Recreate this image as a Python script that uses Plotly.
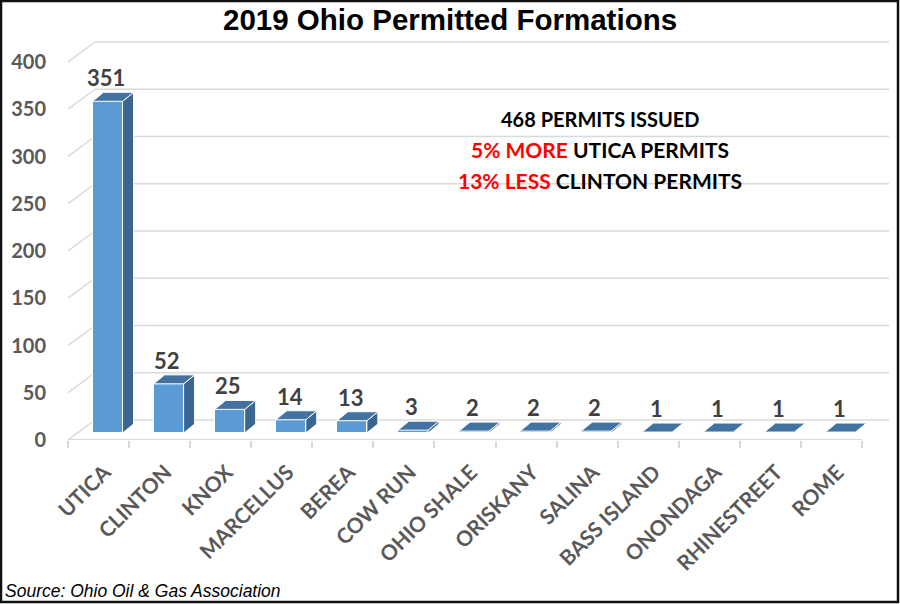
import plotly.graph_objects as go

# ---- data ----
categories = ["UTICA", "CLINTON", "KNOX", "MARCELLUS", "BEREA", "COW RUN", "OHIO SHALE",
              "ORISKANY", "SALINA", "BASS ISLAND", "ONONDAGA", "RHINESTREET", "ROME"]
permits = [351, 52, 25, 14, 13, 3, 2, 2, 2, 1, 1, 1, 1]
y_ticks = [0, 50, 100, 150, 200, 250, 300, 350, 400]

# ---- geometry (pseudo-3D, in axis units) ----
W, H = 900, 604
L, R, T, B = 68, 10, 40, 164
plot_w, plot_h = W - L - R, H - T - B
cat_px = 61.08
px_per_unit = 0.945
x_range = [-0.5, -0.5 + plot_w / cat_px]
y_range = [0, plot_h / px_per_unit]

wall_dx, wall_dy = 27 / cat_px, 20 / px_per_unit      # floor depth
front_dx, front_dy = 9 / cat_px, 7 / px_per_unit      # bar front plane offset
bar_dx, bar_dy = 11 / cat_px, 9 / px_per_unit         # bar depth
bar_w = 30 / cat_px

FRONT = "#5B9BD5"
TOP = "#4172A0"
SIDE = "#3A6690"
GRID = "#D9D9D9"
TXT = "#595959"

fig = go.Figure()

xs = [i + front_dx for i in range(len(categories))]
fig.add_trace(go.Bar(
    x=xs, y=permits, base=[front_dy] * len(permits), width=bar_w,
    marker=dict(color=FRONT, line=dict(color="white", width=1)),
    hoverinfo="skip", showlegend=False))

# side and top faces
sx, sy, tx, ty = [], [], [], []
for xc, v in zip(xs, permits):
    xl, xr = xc - bar_w / 2, xc + bar_w / 2
    b0, b1 = front_dy, front_dy + v
    sx += [xr, xr + bar_dx, xr + bar_dx, xr, xr, None]
    sy += [b0, b0 + bar_dy, b1 + bar_dy, b1, b0, None]
    tx += [xl, xr, xr + bar_dx, xl + bar_dx, xl, None]
    ty += [b1, b1, b1 + bar_dy, b1 + bar_dy, b1, None]
fig.add_trace(go.Scatter(x=sx, y=sy, mode="lines", fill="toself", fillcolor=SIDE,
                         line=dict(color="white", width=1), hoverinfo="skip", showlegend=False))
fig.add_trace(go.Scatter(x=tx, y=ty, mode="lines", fill="toself", fillcolor=TOP,
                         line=dict(color="white", width=1), hoverinfo="skip", showlegend=False))

# value labels
for xc, v in zip(xs, permits):
    fig.add_annotation(x=xc - 0.02, y=front_dy + v + bar_dy, text=str(v), showarrow=False,
                       yanchor="bottom", xanchor="center", yshift=-1,
                       font=dict(family="Lato", size=22, color="#404040", weight="bold"))

# back wall / side wall gridlines
shapes = []
x_back0 = -0.5 + wall_dx
x_back1 = len(categories) - 0.5 + wall_dx
for v in y_ticks:
    shapes.append(dict(type="line", xref="x", yref="y", x0=x_back0, x1=x_back1,
                       y0=v + wall_dy, y1=v + wall_dy, line=dict(color=GRID, width=1.5), layer="below"))
    shapes.append(dict(type="line", xref="x", yref="y", x0=-0.5, x1=x_back0,
                       y0=v, y1=v + wall_dy, line=dict(color=GRID, width=1.5), layer="below"))
# floor front edge
shapes.append(dict(type="line", xref="x", yref="y", x0=-0.5, x1=len(categories) - 0.5,
                   y0=0, y1=0, line=dict(color=GRID, width=2), layer="below"))

# outer border
def pxx(p):
    return (p - L) / plot_w

def pxy(p):
    return (H - B - p) / plot_h

shapes.append(dict(type="rect", xref="paper", yref="paper", x0=pxx(1), x1=pxx(898),
                   y0=pxy(1), y1=pxy(602), line=dict(color="#111111", width=2.5)))

fig.update_layout(
    width=W, height=H, margin=dict(l=L, r=R, t=T, b=B),
    paper_bgcolor="white", plot_bgcolor="white",
    shapes=shapes, bargap=0, showlegend=False,
    xaxis=dict(range=x_range, tickmode="array", tickvals=list(range(len(categories))),
               ticktext=categories, tickangle=-45, ticks="", showgrid=False, zeroline=False,
               showline=False, ticklabelstandoff=15, ticklabelshift=6,
               tickfont=dict(family="Lato", size=21, color=TXT, weight="bold"),
               minor=dict(tickmode="array", tickvals=[i - 0.5 for i in range(len(categories) + 1)],
                          ticks="outside", ticklen=7, tickcolor=GRID, tickwidth=1.5, showgrid=False),
               fixedrange=True),
    yaxis=dict(range=y_range, tickmode="array", tickvals=y_ticks, ticks="", showgrid=False,
               zeroline=False, showline=False, ticklabelstandoff=21,
               tickfont=dict(family="Lato", size=20, color=TXT, weight="bold"), fixedrange=True),
)

# title
fig.add_annotation(xref="paper", yref="paper", x=pxx(450), y=pxy(20), text="2019 Ohio Permitted Formations",
                   showarrow=False, xanchor="center", yanchor="middle",
                   font=dict(family="Liberation Sans", size=29.5, color="black", weight="bold"))
# notes
notes = ["468 PERMITS ISSUED",
         "<span style='color:#FF0000'>5% MORE</span> UTICA PERMITS",
         "<span style='color:#FF0000'>13% LESS</span> CLINTON PERMITS"]
note_y = [119, 149, 180]
note_sizes = [20, 21, 21]
for t, yy, s in zip(notes, note_y, note_sizes):
    fig.add_annotation(xref="paper", yref="paper", x=pxx(600), y=pxy(yy), text=t, showarrow=False,
                       xanchor="center", yanchor="middle",
                       font=dict(family="Lato", size=s, color="black", weight="bold"))
# source
fig.add_annotation(xref="paper", yref="paper", x=pxx(3), y=pxy(591), text="Source: Ohio Oil & Gas Association",
                   showarrow=False, xanchor="left", yanchor="middle",
                   font=dict(family="Liberation Sans", size=17.5, color="black", style="italic"))

fig.write_html("out.html")
